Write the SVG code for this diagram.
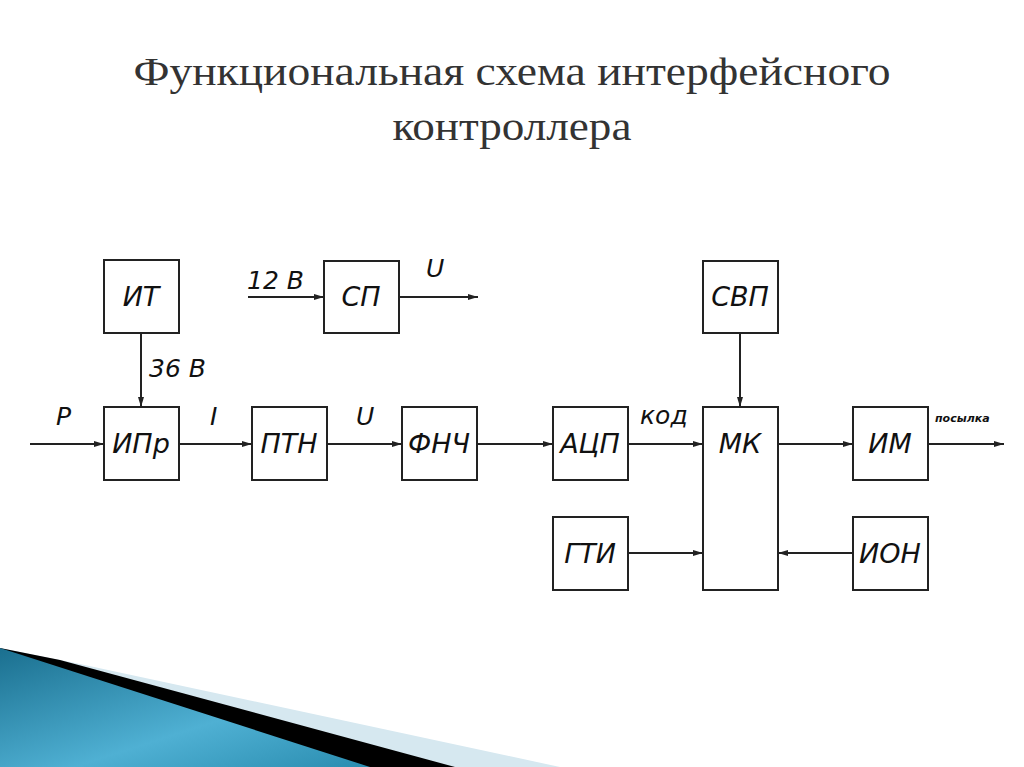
<svg xmlns="http://www.w3.org/2000/svg" width="1024" height="767" viewBox="0 0 1024 767">
<defs>
<linearGradient id="bl" x1="0" y1="0" x2="1" y2="1"><stop offset="0" stop-color="#1a6f8f"/><stop offset="0.6" stop-color="#4fb0d3"/><stop offset="1" stop-color="#2a8db0"/></linearGradient>
<marker id="a" viewBox="0 0 10 6" refX="10" refY="3" markerWidth="10" markerHeight="6" orient="auto" markerUnits="userSpaceOnUse"><path d="M0,0L10,3L0,6z" fill="#222"/></marker>
</defs>
<style>
.b{fill:#fff;stroke:#222;stroke-width:2}
.t{font-family:"DejaVu Sans",sans-serif;font-style:italic;font-size:27px;fill:#111;text-anchor:middle}
.l{font-family:"DejaVu Sans",sans-serif;font-style:italic;font-size:25px;fill:#111}
.s{font-family:"DejaVu Sans",sans-serif;font-style:italic;font-weight:bold;font-size:11px;fill:#111}
.c line{stroke:#222;stroke-width:2;marker-end:url(#a)}
</style>
<rect width="1024" height="767" fill="#fff"/>
<polygon points="0,648 80,664 560,767 0,767" fill="#d6e8f0"/>
<polygon points="0,648 60,660 455,767 0,767" fill="#000"/>
<polygon points="0,648 370,767 0,767" fill="url(#bl)"/>
<g font-family="Liberation Serif,serif" font-size="40" fill="#333" text-anchor="middle">
<text x="512" y="85" textLength="757" lengthAdjust="spacingAndGlyphs">Функциональная схема интерфейсного</text>
<text x="512" y="140" textLength="239" lengthAdjust="spacingAndGlyphs">контроллера</text>
</g>
<g class="c">
<line x1="141" y1="333" x2="141" y2="407"/>
<line x1="248" y1="297" x2="324" y2="297"/>
<line x1="399" y1="297" x2="478" y2="297"/>
<line x1="30" y1="444" x2="104" y2="444"/>
<line x1="179" y1="444" x2="252" y2="444"/>
<line x1="327" y1="444" x2="402" y2="444"/>
<line x1="477" y1="444" x2="553" y2="444"/>
<line x1="628" y1="444" x2="703" y2="444"/>
<line x1="740" y1="333" x2="740" y2="407"/>
<line x1="778" y1="444" x2="853" y2="444"/>
<line x1="928" y1="444" x2="1004" y2="444"/>
<line x1="628" y1="553" x2="703" y2="553"/>
<line x1="853" y1="553" x2="778" y2="553"/>
</g>
<g id="it"><rect class="b" x="104" y="260" width="75" height="73"/><text class="t" x="141" y="306">ИТ</text></g>
<g id="sp"><rect class="b" x="324" y="261" width="75" height="72"/><text class="t" x="361" y="306">СП</text></g>
<g id="ipr"><rect class="b" x="104" y="407" width="75" height="73"/><text class="t" x="141" y="453">ИПр</text></g>
<g id="ptn"><rect class="b" x="252" y="407" width="75" height="73"/><text class="t" x="289" y="453">ПТН</text></g>
<g id="fnch"><rect class="b" x="402" y="407" width="75" height="73"/><text class="t" x="439" y="453">ФНЧ</text></g>
<g id="acp"><rect class="b" x="553" y="407" width="75" height="73"/><text class="t" x="590" y="453">АЦП</text></g>
<g id="mk"><rect class="b" x="703" y="407" width="75" height="183"/><text class="t" x="740" y="453">МК</text></g>
<g id="svp"><rect class="b" x="703" y="261" width="75" height="72"/><text class="t" x="740" y="306">СВП</text></g>
<g id="im"><rect class="b" x="853" y="407" width="75" height="73"/><text class="t" x="890" y="453">ИМ</text></g>
<g id="gti"><rect class="b" x="553" y="517" width="75" height="73"/><text class="t" x="590" y="563">ГТИ</text></g>
<g id="ion"><rect class="b" x="853" y="517" width="75" height="73"/><text class="t" x="890" y="563">ИОН</text></g>
<text class="l" x="149" y="377">36 В</text>
<text class="l" x="247" y="289">12 В</text>
<text class="l" x="426" y="277">U</text>
<text class="l" x="56" y="425">P</text>
<text class="l" x="210" y="425">I</text>
<text class="l" x="356" y="425">U</text>
<text class="l" x="640" y="424">код</text>
<text class="s" x="935" y="422">посылка</text>
</svg>
